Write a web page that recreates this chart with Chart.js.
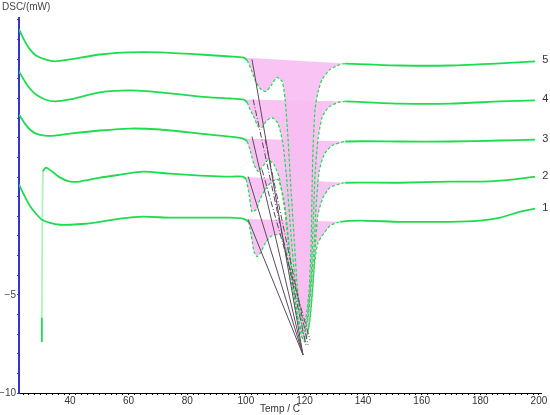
<!DOCTYPE html>
<html>
<head>
<meta charset="utf-8">
<script src="https://cdn.jsdelivr.net/npm/chart.js@4.4.1/dist/chart.umd.min.js"></script>
<style>
  html, body { margin: 0; padding: 0; background: #fff; }
  #wrap { width: 550px; height: 415px; }
</style>
</head>
<body>
<div id="wrap"><canvas id="dsc"></canvas></div>
<script>
// ===== Data: [Temp (C), DSC (mW)] =====
const curve1 = [[22.6,0.61],[24.6,0.0],[26.3,-0.46],[28.4,-0.87],[30.4,-1.17],[33.2,-1.33],[36.6,-1.43],[40,-1.43],[45.1,-1.38],[50.2,-1.28],[57.1,-1.12],[64.9,-1.02],[74.1,-1.07],[84.4,-1.07],[94.6,-1.07],[99.0,-1.12],[100.8,-1.28],[101.8,-1.94],[102.8,-2.81],[103.8,-3.06],[105.2,-2.81],[106.9,-2.30],[108.9,-1.99],[111.7,-1.94],[113.7,-2.70],[115.4,-4.23],[117.1,-5.77],[118.8,-7.04],[120.2,-7.40],[121.6,-6.53],[122.6,-5.0],[123.6,-3.21],[124.6,-2.35],[126.3,-1.94],[128.7,-1.48],[132.2,-1.28],[139.0,-1.22],[152.6,-1.28],[169.7,-1.28],[179.9,-1.22],[186.8,-1.07],[193.6,-0.76],[198.7,-0.61]];
const curve2 = [[30.4,-7.40],[30.4,-6.17],[30.5,-2.70],[30.8,1.28],[31.8,1.48],[33.9,1.28],[36.6,0.97],[40,0.77],[43.4,0.77],[50.2,0.97],[57.1,1.12],[64.9,1.28],[74.1,1.17],[84.4,1.07],[92.9,1.02],[99.0,1.02],[100.1,0.87],[101.1,0.10],[102.1,-0.77],[103.5,-0.66],[104.8,-0.15],[106.6,0.36],[108.9,0.77],[111.0,0.87],[113.0,-0.15],[114.4,-1.94],[115.8,-3.98],[117.5,-6.02],[119.2,-6.94],[120.5,-7.19],[121.9,-6.28],[122.9,-4.49],[123.6,-2.70],[124.6,-0.92],[126.3,-0.05],[128.7,0.46],[132.2,0.66],[133.9,0.71],[152.6,0.71],[169.7,0.77],[179.9,0.77],[186.8,0.82],[193.6,0.92],[198.7,1.02]];
const curve3 = [[22.6,4.18],[24.6,3.72],[26.3,3.42],[28.4,3.21],[31.5,3.11],[34.9,3.11],[40,3.21],[50.2,3.37],[60.5,3.47],[70.7,3.42],[84.4,3.21],[94.6,3.06],[99.0,2.96],[100.4,2.81],[101.4,2.40],[102.8,1.63],[104.2,1.28],[105.5,1.48],[107.6,1.89],[109.6,1.63],[111.3,1.02],[113.0,-0.41],[114.4,-2.19],[115.8,-4.23],[117.5,-6.02],[118.8,-6.79],[119.9,-6.94],[121.2,-6.17],[122.3,-4.49],[123.3,-2.45],[124.0,-0.41],[125.0,1.28],[126.7,2.14],[129.4,2.60],[133.9,2.81],[152.6,2.81],[169.7,2.81],[186.8,2.86],[198.7,2.91]];
const curve4 = [[22.6,6.38],[24.6,5.87],[26.3,5.51],[28.4,5.20],[31.5,4.95],[34.9,4.85],[40,4.95],[50.2,5.31],[60.5,5.41],[70.7,5.31],[84.4,5.10],[94.6,5.00],[99.0,4.95],[100.4,4.80],[101.4,4.44],[102.8,4.03],[104.2,3.57],[105.5,3.52],[106.9,3.83],[108.9,4.03],[111.0,3.72],[112.7,2.65],[114.1,0.61],[115.4,-1.94],[116.8,-4.23],[118.2,-5.87],[119.2,-6.53],[120.2,-6.68],[121.2,-5.87],[122.3,-3.98],[122.9,-1.68],[123.6,1.07],[124.6,2.91],[126.0,4.03],[128.1,4.54],[131.5,4.80],[133.9,4.85],[152.6,4.74],[169.7,4.74],[186.8,4.85],[198.7,4.90]];
const curve5 = [[22.6,8.52],[24.6,7.91],[26.3,7.50],[28.4,7.19],[31.5,6.99],[34.9,6.89],[40,6.99],[50.2,7.24],[60.5,7.35],[70.7,7.35],[84.4,7.24],[94.6,7.14],[99.0,7.09],[100.4,6.94],[101.8,6.48],[103.5,5.82],[105.2,5.46],[106.9,5.36],[108.6,5.66],[110.6,6.07],[112.4,5.87],[113.4,4.95],[114.4,2.91],[115.4,0.36],[116.5,-2.19],[117.5,-4.49],[118.5,-5.87],[119.5,-6.38],[120.5,-6.17],[121.6,-4.74],[122.3,-2.19],[122.6,0.36],[122.9,2.40],[123.6,4.44],[124.6,5.31],[126.0,5.97],[128.7,6.48],[132.2,6.73],[133.9,6.78],[152.6,6.68],[169.7,6.68],[186.8,6.79],[198.7,6.89]];

const curves = [curve1, curve2, curve3, curve4, curve5];
const curveNames = ['1', '2', '3', '4', '5'];
// integration limits of each peak (baseline runs between the curve at these temps)
const peakFrom = [99.0, 99.0, 99.0, 99.0, 99.0];
const peakTo = [132.2, 133.9, 133.9, 133.9, 133.9];

// onset / tangent lines: [start, end], dashed flag
const onsetLines = [
  [[102.1, 6.99], [119.5, -8.06]],
  [[102.5, 4.95], [120.5, -7.55]],
  [[102.1, 3.06], [119.5, -8.06]],
  [[100.8, 1.02], [119.5, -8.06]],
  [[100.8, -1.17], [119.5, -8.06]],
  [[105.5, 1.38], [121.9, -7.30]],
  [[106.6, 2.91], [121.2, -7.55]]
];
const onsetDashed = [false, true, false, false, false, true, true];

const yLabelValues = [-5, -10];
const xLabelStep = 20;

// ===== Colors =====
const GREEN = '#1edc50';
const GREEN_FAINT = 'rgba(30,220,80,0.35)';
const PINK = 'rgba(248,190,242,0.9)';
const TANGENT = '#5b4b5b';

// ===== Datasets =====
const datasets = [];
const pt = p => ({ x: p[0], y: p[1] });

// invisible baselines (dataset index = curve index)
curves.forEach((pts, i) => {
  const a = pts.find(p => p[0] === peakFrom[i]);
  const b = pts.find(p => p[0] === peakTo[i]);
  datasets.push({
    label: 'base' + curveNames[i],
    data: [pt(a), pt(b)],
    borderWidth: 0,
    borderColor: 'rgba(0,0,0,0)',
    pointRadius: 0,
    fill: false,
    order: 4
  });
});

// peak areas filled down to the baseline
curves.forEach((pts, i) => {
  datasets.push({
    label: 'area' + curveNames[i],
    data: pts.filter(p => p[0] >= peakFrom[i] && p[0] <= peakTo[i]).map(pt),
    borderWidth: 0,
    borderColor: 'rgba(0,0,0,0)',
    pointRadius: 0,
    tension: 0.2,
    backgroundColor: PINK,
    fill: i,
    order: 3
  });
});

curves.forEach((pts, i) => {
  const inPeak = ctx => {
    const x = ctx.p0.parsed.x;
    return x >= peakFrom[i] + 1 && x < peakTo[i] - 1;
  };
  datasets.push({
    label: 'curve' + curveNames[i],
    data: pts.map(pt),
    borderColor: GREEN,
    borderWidth: 1.8,
    pointRadius: 0,
    tension: 0.2,
    fill: false,
    order: 2,
    segment: {
      borderDash: ctx => (inPeak(ctx) ? [3, 2] : undefined),
      borderWidth: ctx => (inPeak(ctx) ? 1.2 : 1.8),
      // the jump at the start of curve 2 is drawn faint
      borderColor: ctx => (i === 1 && (ctx.p0DataIndex === 1 || ctx.p0DataIndex === 2) ? GREEN_FAINT : GREEN)
    }
  });
});

onsetLines.forEach((seg, i) => {
  datasets.push({
    label: 'onset' + i,
    data: seg.map(pt),
    borderColor: TANGENT,
    borderWidth: 1,
    borderDash: onsetDashed[i] ? [6, 2, 1, 2] : [],
    pointRadius: 0,
    fill: false,
    order: 1
  });
});

// ===== Text plugin: axis caption and curve numbers =====
const textPlugin = {
  id: 'dscText',
  afterDraw(chart) {
    const ctx = chart.ctx;
    const xs = chart.scales.x, ys = chart.scales.y;
    ctx.save();
    ctx.fillStyle = '#444';
    ctx.font = '10px "Liberation Sans", Arial, sans-serif';
    ctx.textBaseline = 'middle';
    ctx.textAlign = 'left';
    ctx.fillText('DSC/(mW)', 2, 7);
    ctx.font = '11px "Liberation Sans", Arial, sans-serif';
    ctx.fillStyle = '#333';
    curves.forEach((pts, i) => {
      const last = pts[pts.length - 1];
      ctx.fillText(curveNames[i], xs.getPixelForValue(last[0]) + 7, ys.getPixelForValue(last[1]) - 1);
    });
    ctx.restore();
  }
};

new Chart(document.getElementById('dsc'), {
  type: 'line',
  data: { datasets: datasets },
  options: {
    responsive: true,
    maintainAspectRatio: false,
    animation: false,
    layout: { padding: { top: 18, right: 9, left: 0, bottom: 0 } },
    plugins: {
      legend: { display: false },
      tooltip: { enabled: false }
    },
    scales: {
      x: {
        type: 'linear',
        min: 22.6,
        max: 200.7,
        afterBuildTicks: axis => {
          const t = [];
          for (let v = 24; v <= 200; v += 2) t.push({ value: v });
          axis.ticks = t;
        },
        afterFit: scale => { scale.height = 22; },
        ticks: {
          autoSkip: false,
          maxRotation: 0,
          padding: 0,
          color: '#333',
          font: { family: '"Liberation Sans", Arial, sans-serif', size: 10 },
          callback: v => (v % xLabelStep === 0 ? String(v) : '')
        },
        grid: { drawOnChartArea: false, tickLength: 2, color: '#000' },
        border: { color: '#000', width: 1 },
        title: {
          display: true,
          text: 'Temp / C',
          color: '#333',
          padding: 0,
          font: { family: '"Liberation Sans", Arial, sans-serif', size: 10 }
        }
      },
      y: {
        type: 'linear',
        min: -10,
        max: 9.1,
        afterBuildTicks: axis => {
          const t = [];
          for (let v = -10; v <= 9; v += 1) t.push({ value: v });
          axis.ticks = t;
        },
        afterFit: scale => { scale.width = 19; },
        ticks: {
          autoSkip: false,
          padding: 1,
          color: '#444',
          font: { family: '"Liberation Sans", Arial, sans-serif', size: 10 },
          callback: v => (yLabelValues.includes(v) ? '\u2212' + Math.abs(v) : '')
        },
        grid: { drawOnChartArea: false, tickLength: 2, color: '#555' },
        border: { color: '#3434d4', width: 2 }
      }
    }
  },
  plugins: [textPlugin]
});
</script>
</body>
</html>
